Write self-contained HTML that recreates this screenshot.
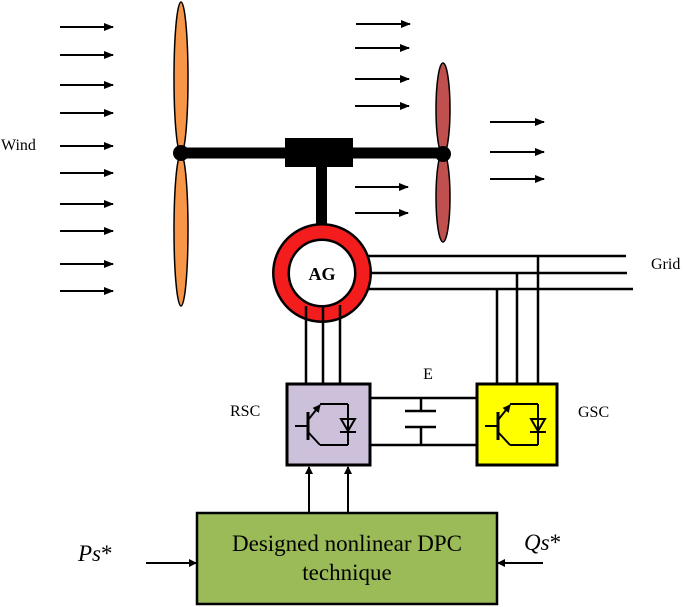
<!DOCTYPE html>
<html><head><meta charset="utf-8"><style>body{margin:0;background:#fff}svg{display:block}</style></head><body>
<svg width="685" height="607" viewBox="0 0 685 607" xmlns="http://www.w3.org/2000/svg" font-family="Liberation Serif, serif">
<defs><marker id="a" markerWidth="8" markerHeight="8" refX="7" refY="4" orient="auto" markerUnits="userSpaceOnUse"><path d="M0,0 L8,4 L0,8 z" fill="#000"/></marker>
<marker id="b" markerWidth="10" markerHeight="8" refX="9" refY="4" orient="auto" markerUnits="userSpaceOnUse"><path d="M0,0 L10,4 L0,8 z" fill="#000"/></marker></defs>
<g stroke="#000" stroke-width="2" marker-end="url(#b)">
<line x1="60" y1="27" x2="113" y2="27"/><line x1="60" y1="55" x2="113" y2="55"/><line x1="60" y1="85" x2="113" y2="85"/><line x1="60" y1="113" x2="113" y2="113"/><line x1="60" y1="146" x2="113" y2="146"/><line x1="60" y1="173" x2="113" y2="173"/><line x1="60" y1="204" x2="113" y2="204"/><line x1="60" y1="231" x2="113" y2="231"/><line x1="60" y1="264" x2="113" y2="264"/><line x1="60" y1="291" x2="113" y2="291"/>
<line x1="356" y1="24" x2="410" y2="24"/><line x1="355" y1="48" x2="409" y2="48"/><line x1="355" y1="79" x2="409" y2="79"/><line x1="355" y1="106" x2="409" y2="106"/><line x1="355" y1="187" x2="408" y2="187"/><line x1="355" y1="213" x2="408" y2="213"/>
<line x1="490" y1="122" x2="544" y2="122"/><line x1="490" y1="152" x2="544" y2="152"/><line x1="490" y1="179" x2="544" y2="179"/>
</g>
<text x="1" y="150" font-size="16">Wind</text>
<ellipse cx="181" cy="78" rx="7" ry="76" fill="#f79646" stroke="#000" stroke-width="1.5"/>
<ellipse cx="181" cy="230" rx="7" ry="76" fill="#f79646" stroke="#000" stroke-width="1.5"/>
<ellipse cx="443" cy="109" rx="7" ry="46" fill="#c0504d" stroke="#000" stroke-width="1.5"/>
<ellipse cx="443" cy="197" rx="7" ry="45" fill="#c0504d" stroke="#000" stroke-width="1.5"/>
<line x1="181" y1="153" x2="443" y2="153" stroke="#000" stroke-width="11"/>
<circle cx="181" cy="153" r="8"/><circle cx="443" cy="154" r="8"/>
<rect x="285" y="138" width="68" height="29"/>
<rect x="316" y="165" width="11" height="68"/>
<g stroke="#000" stroke-width="2.5">
<line x1="360" y1="256" x2="626" y2="256"/><line x1="365" y1="273" x2="627" y2="273"/><line x1="365" y1="289" x2="633" y2="289"/>
<line x1="538" y1="256" x2="538" y2="384"/><line x1="517" y1="273" x2="517" y2="384"/><line x1="497" y1="289" x2="497" y2="384"/>
<line x1="306" y1="307" x2="306" y2="384"/><line x1="323" y1="307" x2="323" y2="384"/><line x1="340" y1="307" x2="340" y2="384"/>
</g>
<circle cx="322" cy="273" r="41" fill="none" stroke="#000" stroke-width="18"/>
<circle cx="322" cy="273" r="41" fill="none" stroke="#f31d1d" stroke-width="13"/>
<g stroke="#000" stroke-width="2.5"><line x1="306" y1="306" x2="306" y2="320"/><line x1="323" y1="307" x2="323" y2="322"/><line x1="340" y1="305" x2="340" y2="318"/></g>
<text x="322" y="280" font-size="18" font-weight="bold" text-anchor="middle">AG</text>
<g stroke="#000" stroke-width="2.5">
<line x1="368" y1="398" x2="478" y2="398"/><line x1="368" y1="445" x2="478" y2="445"/>
<line x1="421" y1="398" x2="421" y2="411"/><line x1="421" y1="427" x2="421" y2="445"/>
<line x1="405" y1="411" x2="436" y2="411"/><line x1="405" y1="427" x2="436" y2="427"/>
</g>
<text x="428" y="379" font-size="16" text-anchor="middle">E</text>
<rect x="287" y="384" width="83" height="81" fill="#ccc0da" stroke="#000" stroke-width="3"/>
<rect x="477" y="384" width="80" height="81" fill="#ffff00" stroke="#000" stroke-width="3"/>
<text x="230" y="416" font-size="16">RSC</text>
<text x="578" y="417" font-size="16">GSC</text>
<g fill="none" stroke="#000" stroke-width="2">
<g>
<line x1="295" y1="426" x2="307" y2="426"/><line x1="308" y1="412" x2="308" y2="440" stroke-width="3"/>
<line x1="308" y1="420" x2="320" y2="405" marker-end="url(#a)"/><line x1="320" y1="404" x2="348" y2="404"/>
<line x1="308" y1="432" x2="320" y2="445"/><line x1="320" y1="445" x2="348" y2="445"/>
<line x1="348" y1="404" x2="348" y2="445"/><path d="M341,419 L355,419 L348,431 z"/><line x1="340" y1="432" x2="356" y2="432"/>
</g>
<g transform="translate(190,0)">
<line x1="295" y1="426" x2="307" y2="426"/><line x1="308" y1="412" x2="308" y2="440" stroke-width="3"/>
<line x1="308" y1="420" x2="320" y2="405" marker-end="url(#a)"/><line x1="320" y1="404" x2="348" y2="404"/>
<line x1="308" y1="432" x2="320" y2="445"/><line x1="320" y1="445" x2="348" y2="445"/>
<line x1="348" y1="404" x2="348" y2="445"/><path d="M341,419 L355,419 L348,431 z"/><line x1="340" y1="432" x2="356" y2="432"/>
</g>
</g>
<rect x="197" y="513" width="300" height="91" fill="#9bbb59" stroke="#000" stroke-width="2.5"/>
<text x="347" y="551" font-size="23" text-anchor="middle">Designed nonlinear DPC</text>
<text x="347" y="580" font-size="23" text-anchor="middle">technique</text>
<g stroke="#000" stroke-width="2" marker-end="url(#a)">
<line x1="309" y1="513" x2="309" y2="467"/><line x1="348" y1="513" x2="348" y2="467"/>
<line x1="146" y1="563" x2="196" y2="563"/><line x1="543" y1="563" x2="498" y2="563"/>
</g>
<text x="78" y="561" font-size="23" font-style="italic">Ps<tspan font-style="normal">*</tspan></text>
<text x="524" y="550" font-size="23" font-style="italic">Qs<tspan font-style="normal">*</tspan></text>
<text x="651" y="269" font-size="16">Grid</text>
</svg>
</body></html>
